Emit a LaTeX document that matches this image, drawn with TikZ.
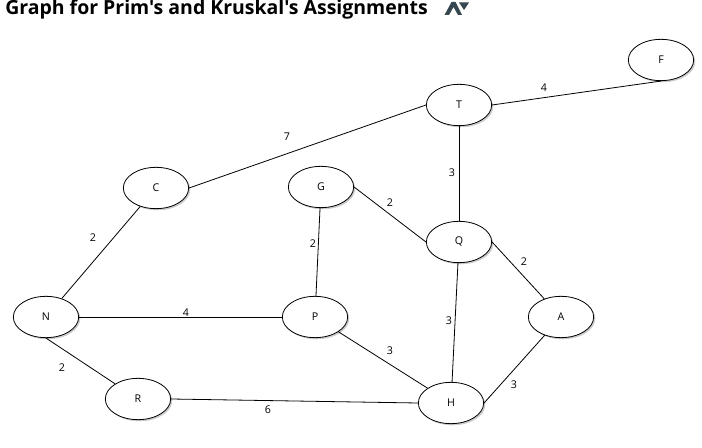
\documentclass[tikz,border=0pt]{standalone}
\usepackage{fontspec}
\newfontfamily\uifont{Open Sans}
\usetikzlibrary{shapes.geometric,shadows}
\definecolor{iconGrey}{HTML}{37474F}

\tikzset{
  vertex/.style={draw, ellipse, fill=white, line width=0.6pt,
    minimum width=49pt, minimum height=31pt, inner sep=0pt,
    font=\uifont\fontsize{8}{9}\selectfont,
    drop shadow={shadow xshift=1.2pt, shadow yshift=-1.2pt, fill=black!40, opacity=0.5}},
  weight/.style={font=\uifont\fontsize{8}{9}\selectfont, inner sep=1pt},
  edge/.style={line width=0.6pt}
}

\begin{document}
\begin{tikzpicture}[x=0.75pt, y=-0.75pt]
  \useasboundingbox (0,0) rectangle (702,448);

  % title and icon
  \node (title) [anchor=base west, inner sep=0pt, font=\uifont\fontsize{14.6}{16}\selectfont\bfseries] at (5,15) {Graph for Prim's and Kruskal's Assignments};
  \fill[iconGrey] (444.5,15) -- (451.5,2) -- (455.5,2) -- (462,15) -- (458,15) -- (453.5,7) -- (449,15) -- cycle;
  \fill[iconGrey] (459,2.5) -- (469,2.5) -- (464,10) -- cycle;

  % vertices
  \node (F) [vertex] at (661,60) {F};
  \node (T) [vertex] at (459,105) {T};
  \node (C) [vertex] at (156,188) {C};
  \node (G) [vertex] at (321,187) {G};
  \node (Q) [vertex] at (459,242) {Q};
  \node (N) [vertex] at (46,317) {N};
  \node (P) [vertex] at (315,317) {P};
  \node (A) [vertex] at (561,317) {A};
  \node (R) [vertex] at (138,399) {R};
  \node (H) [vertex] at (451,403) {H};

  % edges
  \draw[edge] (T.east) -- (F.south);
  \draw[edge] (C.east) -- (T.west);
  \draw[edge] (T) -- (Q);
  \draw[edge] (G.east) -- (Q.west);
  \draw[edge] (C) -- (N);
  \draw[edge] (G) -- (P);
  \draw[edge] (Q.east) -- (A);
  \draw[edge] (N.east) -- (P.west);
  \draw[edge] (Q) -- (H);
  \draw[edge] (P) -- (H);
  \draw[edge] (N.south) -- (R);
  \draw[edge] (A) -- (H.east);
  \draw[edge] (R.east) -- (H.west);

  % weights
  \node (wTF) [weight] at (544,88) {4};
  \node (wCT) [weight] at (287,137) {7};
  \node (wTQ) [weight] at (452,173) {3};
  \node (wGQ) [weight] at (390,203) {2};
  \node (wCN) [weight] at (93,238) {2};
  \node (wGP) [weight] at (313,244) {2};
  \node (wQA) [weight] at (524,262) {2};
  \node (wNP) [weight] at (186,313) {4};
  \node (wQH) [weight] at (449,321) {3};
  \node (wPH) [weight] at (390,351) {3};
  \node (wNR) [weight] at (62,368) {2};
  \node (wAH) [weight] at (514,385) {3};
  \node (wRH) [weight] at (268,410) {6};
\end{tikzpicture}
\end{document}
